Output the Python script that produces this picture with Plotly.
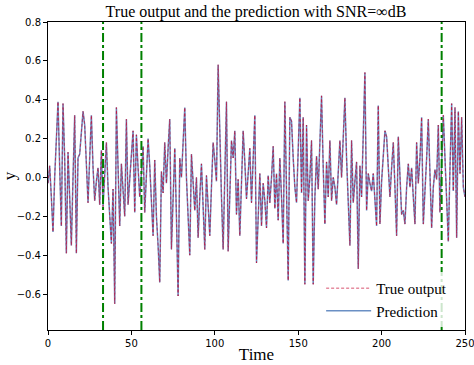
import plotly.graph_objects as go

time = list(range(0, 251))
true_output = [
    -0.03, 0.06, -0.10, -0.28, 0.00, 0.20, 0.39, 0.05, -0.25, 0.38,
    0.10, -0.39, 0.13, -0.10, -0.35, 0.00, 0.32, -0.39, 0.10, 0.12,
    0.25, 0.34, 0.27, 0.05, -0.13, 0.10, 0.32, 0.05, -0.12, -0.02,
    0.05, -0.14, 0.14, -0.15, 0.05, 0.18, -0.05, -0.20, -0.34, -0.06,
    -0.65, 0.36, 0.00, -0.25, 0.07, -0.05, -0.20, 0.30, -0.14, -0.01,
    0.15, 0.24, -0.18, 0.22, 0.05, -0.10, 0.02, 0.16, -0.18, 0.05,
    0.20, 0.06, -0.10, -0.30, 0.09, -0.20, -0.35, -0.54, 0.03, -0.08,
    0.18, -0.03, 0.15, 0.30, -0.37, -0.05, 0.15, -0.20, -0.61, 0.10,
    0.00, 0.18, 0.36, 0.00, -0.20, -0.40, 0.12, -0.02, -0.17, 0.00,
    -0.31, -0.10, 0.07, -0.15, -0.37, 0.01, -0.12, -0.30, -0.05, 0.18,
    0.09, -0.02, 0.58, 0.20, -0.10, -0.37, 0.05, 0.39, -0.38, -0.05,
    0.19, 0.10, 0.24, -0.19, -0.01, -0.30, 0.00, 0.24, 0.08, -0.11,
    0.02, 0.15, -0.13, 0.08, 0.32, -0.44, -0.15, 0.02, -0.25, -0.03,
    -0.12, -0.26, 0.01, -0.13, 0.00, 0.16, -0.16, 0.02, -0.22, 0.10,
    -0.10, -0.34, 0.39, -0.05, -0.53, 0.31, 0.29, 0.10, -0.05, -0.13,
    0.15, 0.41, -0.08, 0.31, -0.55, 0.27, -0.12, 0.00, 0.19, -0.55,
    -0.10, 0.11, -0.06, 0.15, 0.42, 0.05, -0.24, 0.08, -0.10, 0.19,
    -0.12, 0.00, -0.05, -0.14, 0.05, 0.19, 0.00, 0.20, 0.41, 0.10,
    -0.15, -0.35, 0.19, -0.13, -0.02, 0.08, -0.47, 0.06, -0.10, 0.20,
    0.54, -0.17, 0.02, -0.03, -0.07, 0.02, -0.10, -0.25, 0.37, -0.24,
    -0.02, 0.10, 0.24, 0.21, 0.05, -0.10, 0.05, 0.18, -0.05, -0.30,
    0.21, 0.00, -0.19, -0.17, -0.24, -0.05, 0.07, -0.05, 0.05, -0.10,
    -0.24, 0.18, -0.03, 0.10, 0.31, -0.24, -0.10, 0.10, 0.30, 0.00,
    -0.26, -0.05, 0.04, -0.01, 0.27, -0.18, 0.10, 0.32, 0.10, -0.10,
    -0.33, 0.05, 0.38, -0.07, 0.36, -0.31, 0.34, 0.02, 0.31, -0.05,
    -0.10,
]
prediction = list(true_output)
change_points = [33, 56, 236]
x_ticks = [0, 50, 100, 150, 200, 250]
y_ticks = [-0.6, -0.4, -0.2, 0.0, 0.2, 0.4, 0.6, 0.8]

fig = go.Figure()
fig.add_trace(go.Scatter(
    x=time, y=prediction, mode="lines", name="Prediction",
    line=dict(color="#6a8fc4", width=1.5), legendrank=2,
))
fig.add_trace(go.Scatter(
    x=time, y=true_output, mode="lines", name="True output",
    line=dict(color="rgba(200,10,50,0.7)", width=1.0, dash="3px,2px"), legendrank=1,
))
for cp in change_points:
    fig.add_shape(type="line", xref="x", yref="paper", x0=cp, x1=cp, y0=0, y1=1,
                  line=dict(color="#008000", width=2, dash="dashdot"))

axis_common = dict(
    showline=True, mirror=True, linecolor="black", linewidth=1,
    ticks="outside", ticklen=4, tickcolor="black", showgrid=False, zeroline=False,
    automargin=False, ticklabeloverflow="allow",
    tickfont=dict(family="DejaVu Sans", size=10, color="black"),
)
fig.update_layout(
    width=474, height=365,
    margin=dict(l=48, r=9, t=22, b=35),
    paper_bgcolor="white", plot_bgcolor="white",
    title=dict(text="True output and the prediction with SNR=∞dB",
               font=dict(family="Liberation Serif", size=16, color="black"),
               x=0.54, xanchor="center", y=0.968, yanchor="middle"),
    xaxis=dict(range=[0, 250], tickvals=x_ticks,
               title=dict(text="Time", font=dict(family="Liberation Serif", size=17, color="black"), standoff=0),
               **axis_common),
    yaxis=dict(range=[-0.785, 0.8], tickvals=y_ticks, tickformat=".1f",
               title=dict(text="y", font=dict(family="Liberation Serif", size=17, color="black"), standoff=6),
               **axis_common),
    legend=dict(x=0.655, y=0.01, xanchor="left", yanchor="bottom",
                bgcolor="rgba(255,255,255,0.8)",
                font=dict(family="Liberation Serif", size=15, color="black"),
                itemwidth=45, tracegroupgap=0),
    showlegend=True,
)
fig.write_html("out.html", config={"displayModeBar": False},
               post_script="document.body.style.margin='0px';")
